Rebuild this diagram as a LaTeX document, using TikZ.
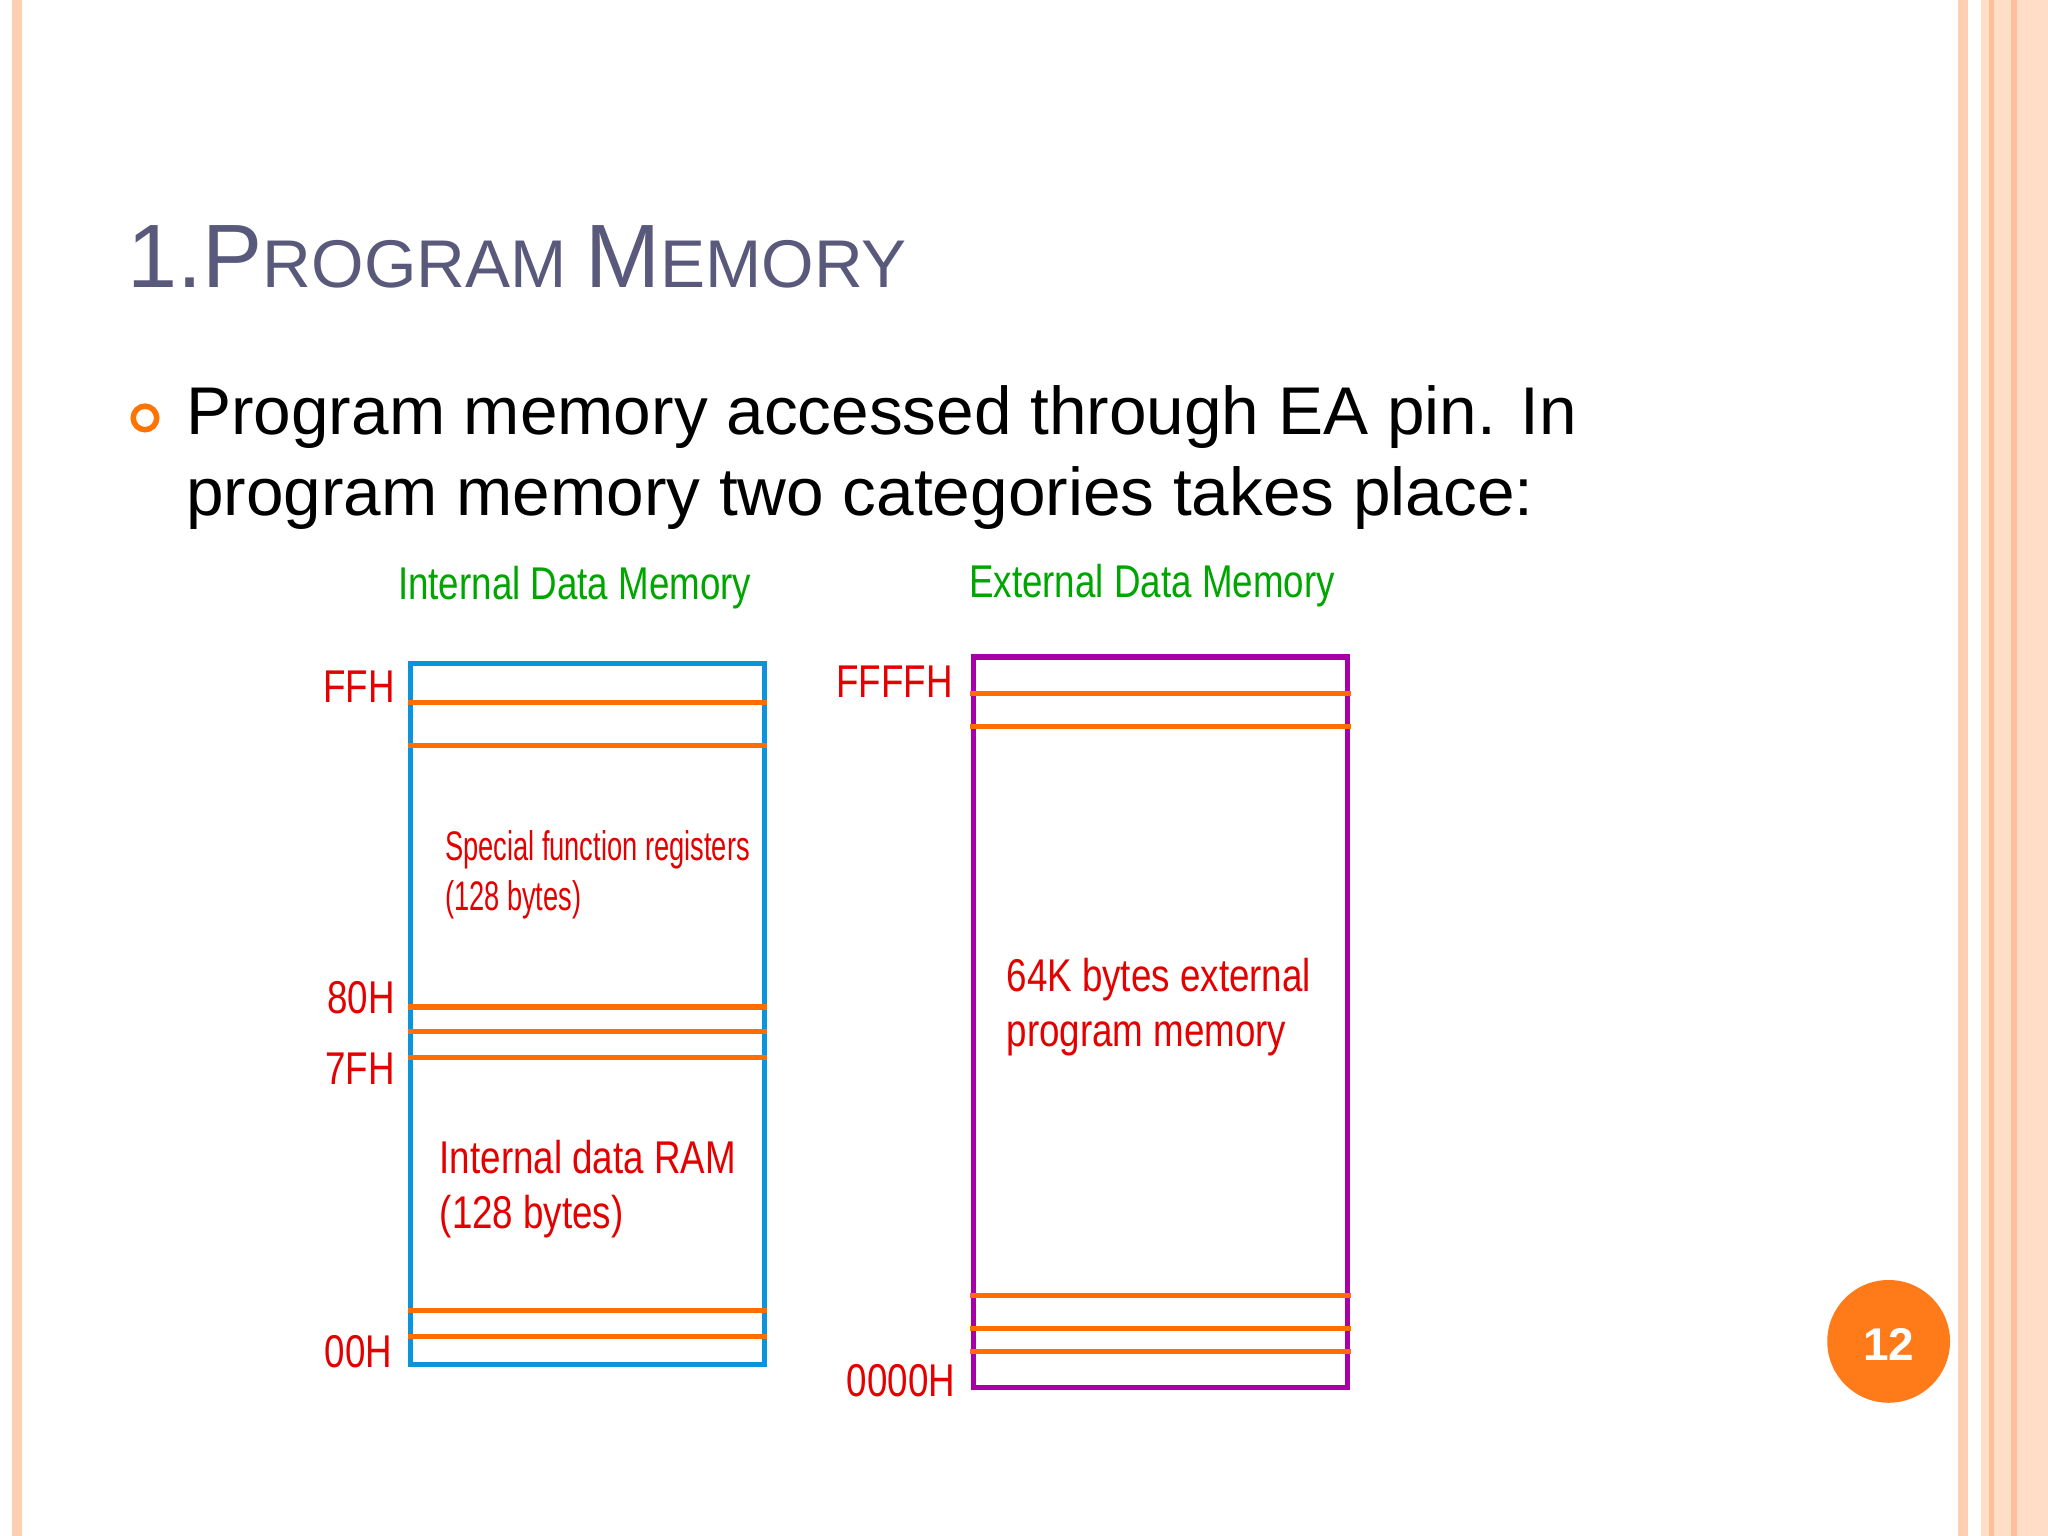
\documentclass[tikz,border=0pt]{standalone}
\usepackage{fontspec}
\setmainfont{Liberation Sans}
\newfontfamily\narrowf{Liberation Sans}[FakeStretch=0.8]
\newfontfamily\narrowg{Liberation Sans}[FakeStretch=0.66]
\begin{document}
\begin{tikzpicture}[x=0.01cm,y=-0.01cm,
  lbl/.style={text=red!90!black,font=\narrowf\fontsize{10}{12}\selectfont,inner sep=0pt},
  grn/.style={text=green!65!black,font=\narrowf\fontsize{10}{12}\selectfont,inner sep=0pt},
  ol/.style={draw=orange!85!red,line width=1.1pt}]
\useasboundingbox (0,0) rectangle (1568,1176);
\fill[white] (0,0) rectangle (1568,1176);
% borders
\fill[red!25!orange!30] (9,0) rectangle (17,1176);
\fill[red!25!orange!30] (1499,0) rectangle (1507,1176);
\fill[red!20!orange!22] (1517,0) rectangle (1568,1176);
\fill[red!25!orange!40] (1523,0) rectangle (1527,1176);
\fill[red!25!orange!40] (1540,0) rectangle (1544,1176);
% title
\node[anchor=base west,inner sep=0pt,text=black!55!blue!30!gray] (title) at (97,220)
  {\fontsize{19.6}{24}\selectfont 1.P\fontsize{14.7}{18}\selectfont ROGRAM \fontsize{19.6}{24}\selectfont M\fontsize{14.7}{18}\selectfont EMORY};
% bullet
\draw[orange!90!red,line width=1.2pt] (111,320) circle (9);
\node[anchor=base west,inner sep=0pt] (body1) at (142,333)
  {\fontsize{14.7}{17}\selectfont Program memory accessed through EA pin. In};
\node[anchor=base west,inner sep=0pt] (body2) at (142,395)
  {\fontsize{14.7}{17}\selectfont program memory two categories takes place:};
% headings
\node[grn] (h1) at (440,450) {Internal Data Memory};
\node[grn] (h2) at (882,448) {External Data Memory};
% internal box
\draw[cyan!80!blue,line width=1.1pt] (314,508) rectangle (585,1045);
\foreach \y in {538,571,771,790,810,1003,1023} \draw[ol] (312,\y) -- (587,\y);
\node[lbl,anchor=east] (ffh) at (303,526) {FFH};
\node[lbl,anchor=east] (h80) at (303,764) {80H};
\node[lbl,anchor=east] (h7f) at (303,818) {7FH};
\node[lbl,anchor=east] (h00) at (301,1035) {00H};
\node[lbl,anchor=north west,align=left,font=\narrowg\fontsize{9}{11}\selectfont] (sfr) at (340,635) {Special function registers\\(128 bytes)};
\node[lbl,anchor=north west,align=left] (ram) at (336,872) {Internal data RAM\\(128 bytes)};
% external box
\draw[violet!70!magenta,line width=1.1pt] (745,503) rectangle (1032,1062);
\foreach \y in {531,556,992,1017,1035} \draw[ol] (743,\y) -- (1034,\y);
\node[lbl,anchor=east] (fffff) at (730,522) {FFFFH};
\node[lbl,anchor=east] (h0000) at (732,1057) {0000H};
\node[lbl,anchor=north west,align=left] (ext) at (770,733) {64K bytes external\\program memory};
% page number
\fill[orange!85!red!90] (1446,1027) circle (47);
\node[text=white,font=\bfseries\fontsize{10}{12}\selectfont] (pg) at (1446,1029) {12};
\end{tikzpicture}
\end{document}
